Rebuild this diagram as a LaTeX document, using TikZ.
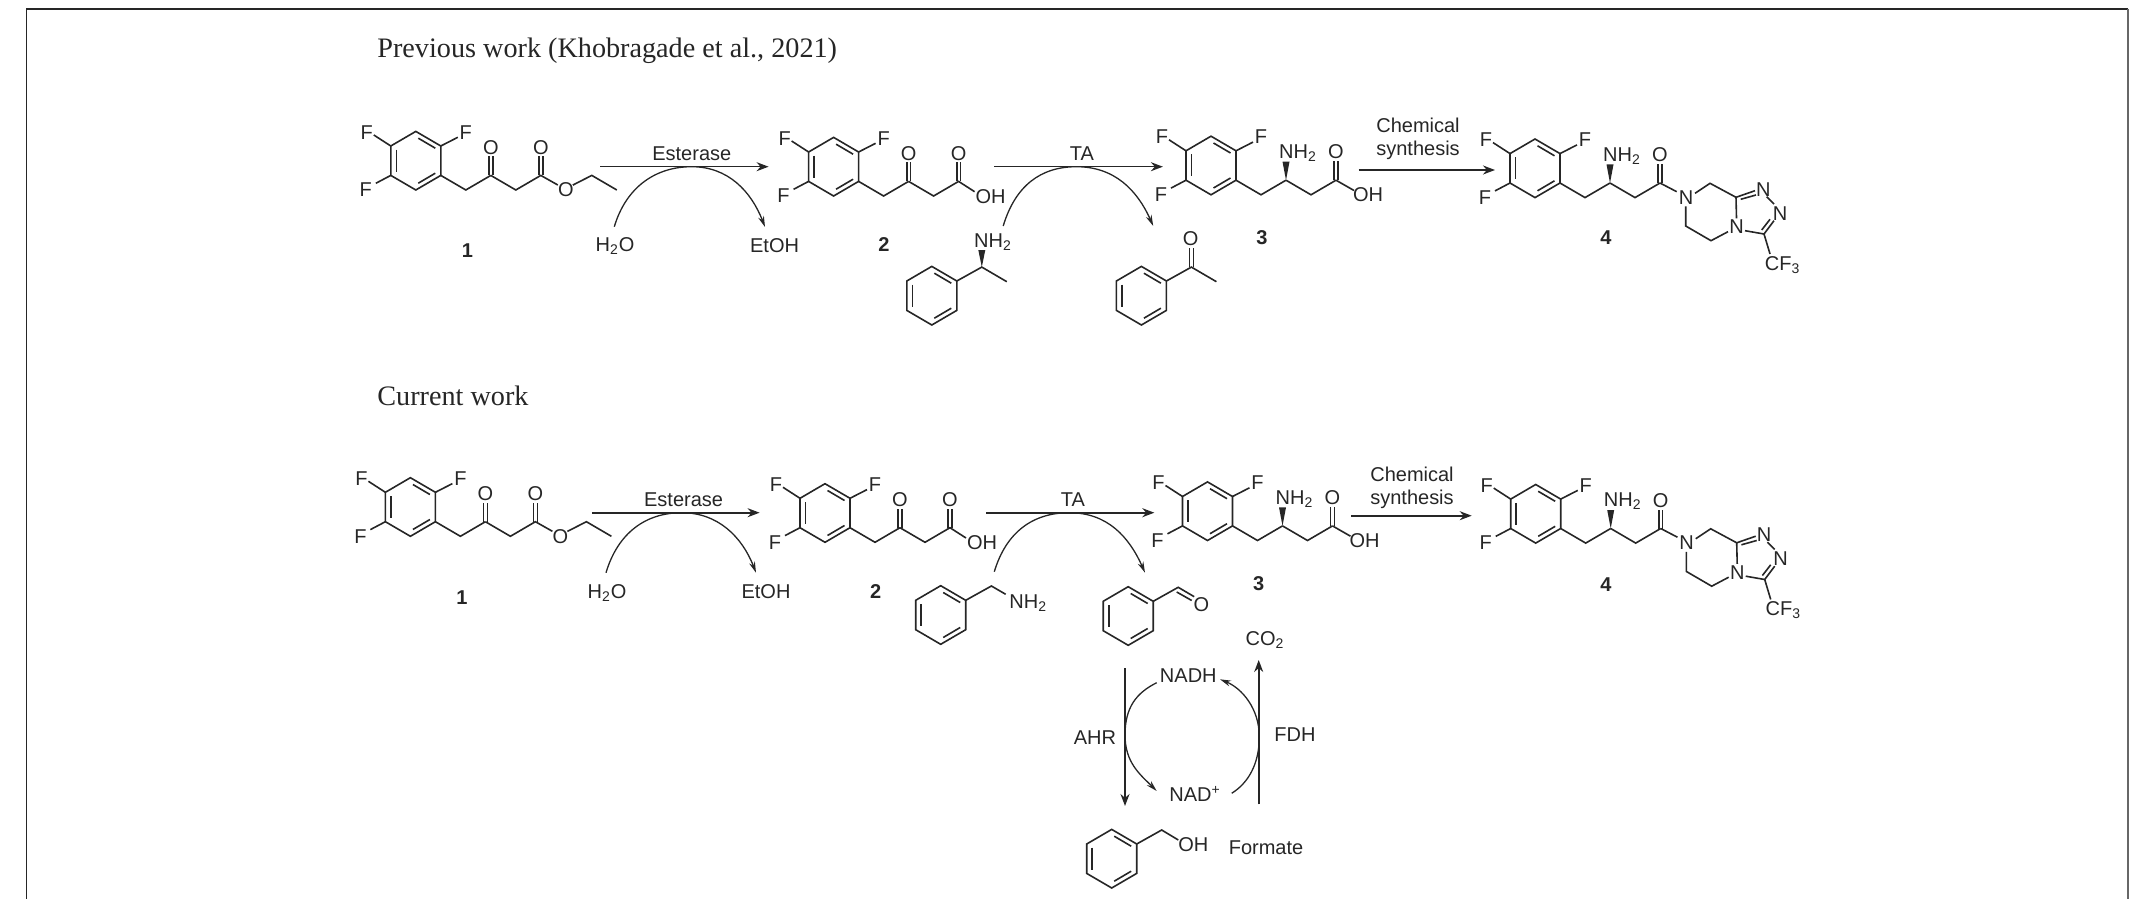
\documentclass[tikz,border=0pt]{standalone}
\usepackage{fontspec}
\setmainfont{Liberation Sans}
\newfontfamily\headfont{Liberation Serif}
\usetikzlibrary{arrows.meta}
\definecolor{inkc}{HTML}{262626}
\tikzset{
    bond/.style={draw=inkc, line width=0.8pt},
    atom/.style={font=\fontsize{10}{11.5}\selectfont, text=inkc, inner sep=0pt, align=center},
    numlab/.style={atom, font=\fontsize{10}{11.5}\selectfont\bfseries},
    headlab/.style={font=\fontsize{14.1}{16}\selectfont\headfont, text=inkc, inner sep=0pt, anchor=west},
    rxnarrow/.style={bond, -{Stealth[length=6pt,width=4.5pt]}},
    swoop/.style={draw=inkc, line width=0.65pt, -{Stealth[length=5.5pt,width=3pt]}},
    pics/benzring/.style={code={
        \draw[bond] (0,-29.3) -- (25,-14.7) -- (25,14.7) -- (0,29.3) -- (-25,14.7) -- (-25,-14.7) -- cycle;
        \draw[bond] (2.5,-22.5) -- (19.5,-12.5);
        \draw[bond] (19.5,12.5) -- (2.5,22.5);
        \draw[bond] (-19.5,-11) -- (-19.5,11);
    }},
    pics/fluoroaryl/.style={code={
        \pic {benzring};
        \draw[bond] (-25,-14.7) -- (-42,-25.7);
        \draw[bond] (25,-14.7) -- (42,-23.4);
        \draw[bond] (-25,14.7) -- (-40,22.6);
        \node[atom] (-fa) at (-49,-28.4) {F};
        \node[atom] (-fb) at (50,-28.4) {F};
        \node[atom] (-fc) at (-50,29.3) {F};
        \draw[bond] (25,14.7) -- (50,29.3) -- (75,14.7);
    }},
    pics/carbonyl/.style={code={
        \draw[bond] (-1.9,0) -- (-1.9,-19);
        \draw[bond] (1.9,0) -- (1.9,-19);
    }},
    pics/ketoester/.style={code={
        \pic {fluoroaryl};
        \pic at (75,14.7) {carbonyl};
        \pic at (125,14.7) {carbonyl};
        \node[atom] (-oa) at (75,-13.4) {O};
        \node[atom] (-ob) at (125,-13.4) {O};
        \node[atom] (-oc) at (150,29.3) {O};
        \draw[bond] (75,14.7) -- (100,29.3) -- (125,14.7) -- (142,24.3);
        \draw[bond] (157,24.4) -- (176,14.7) -- (201,29.3);
    }},
    pics/ketoacid/.style={code={
        \pic {fluoroaryl};
        \pic at (75,14.7) {carbonyl};
        \pic at (125,14.7) {carbonyl};
        \node[atom] (-oa) at (75,-13.4) {O};
        \node[atom] (-ob) at (125,-13.4) {O};
        \node[atom] (-oh) at (157,30) {OH};
        \draw[bond] (75,14.7) -- (100,29.3) -- (125,14.7) -- (141,25);
    }},
    pics/aminohead/.style={code={
        \pic {fluoroaryl};
        \pic at (125,14.7) {carbonyl};
        \fill[inkc] (75,14.7) -- (71.5,-3.8) -- (78.5,-3.8) -- cycle;
        \node[atom] (-nh) at (87,-12.2) {NH\textsubscript{2}};
        \node[atom] (-ob) at (125,-13.4) {O};
        \draw[bond] (75,14.7) -- (100,29.3) -- (125,14.7);
    }},
    pics/aminoacid/.style={code={
        \pic {aminohead};
        \node[atom] (-oh) at (157,29.5) {OH};
        \draw[bond] (125,14.7) -- (143,25);
    }},
    pics/triazolo/.style={code={
        \pic {aminohead};
        \node[atom] (-na) at (151,29) {N};
        \node[atom] (-nb) at (201.7,58.4) {N};
        \node[atom] (-nc) at (228.3,21) {N};
        \node[atom] (-nd) at (245,45) {N};
        \node[atom] (-cf) at (247.7,96.7) {CF\textsubscript{3}};
        \draw[bond] (125,14.7) -- (141.7,23.4);
        \draw[bond] (160,25) -- (175,15) -- (201,29) -- (201.5,50);
        \draw[bond] (193,63.4) -- (176,72.4) -- (150.7,57.7) -- (150.7,38);
        \draw[bond] (210,62.4) -- (229,65.7) -- (239,52.4);
        \draw[bond] (235,51) -- (226.7,61.7);
        \draw[bond] (201,29) -- (220,22.4);
        \draw[bond] (205.7,31) -- (221,26.7);
        \draw[bond] (231.7,28.4) -- (239,35.7);
        \draw[bond] (229,65.7) -- (235,85.7);
    }},
    pics/phenethyl/.style={code={
        \pic {benzring};
        \draw[bond] (25,-14.7) -- (50,-28.6) -- (75,-14);
        \fill[inkc] (50,-28.6) -- (46.5,-45.7) -- (53.5,-45.7) -- cycle;
        \node[atom] (-nh) at (61.2,-54) {NH\textsubscript{2}};
    }},
    pics/acetyl/.style={code={
        \pic {benzring};
        \draw[bond] (25,-14.7) -- (50,-28.6) -- (75,-14);
        \pic at (50,-28.6) {carbonyl};
        \node[atom] (-oa) at (49.3,-56.7) {O};
    }},
}
\begin{document}
\begin{tikzpicture}[x=0.5pt, y=-0.5pt]
    \useasboundingbox (0,0) rectangle (2148,899);
    \draw[inkc, line width=0.5pt] (26,899) -- (26,9);
    \draw[inkc, line width=1pt] (26,9) -- (2128,9);
    \draw[inkc!70, line width=0.7pt] (2128,9) -- (2128,899);
    \node[headlab] (prevhead) at (377,51) {Previous work (Khobragade et al., 2021)};
    \node[headlab] (currhead) at (377,396) {Current work};

    % upper scheme
    \pic (keta) at (415.8,160.7) {ketoester};
    \pic (acida) at (833.6,166.7) {ketoacid};
    \pic (amina) at (1211,165.5) {aminoacid};
    \pic (sitaa) at (1535,168.3) {triazolo};
    \pic (pea) at (931.8,295.7) {phenethyl};
    \pic (acpa) at (1141.4,295.7) {acetyl};
    \node[numlab] (numaa) at (467.5,251) {1};
    \node[numlab] (numab) at (884,245) {2};
    \node[numlab] (numac) at (1262,237.3) {3};
    \node[numlab] (numad) at (1606,237.3) {4};
    \node[atom] (watera) at (615,246) {H\textsubscript{2}O};
    \node[atom] (etoha) at (774.6,246) {EtOH};

    \coordinate (esta) at (600,166.7);
    \coordinate (estb) at (768.6,166.7);
    \coordinate (esttop) at (691.8,166.7);
    \coordinate (estin) at (614.3,226.7);
    \coordinate (estout) at (765,227);
    \draw[rxnarrow] (esta) -- (estb);
    \node[atom] (estlab) at (691.8,154) {Esterase};
    \draw[swoop] (estin) .. controls +(12,-40) and +(-36,0) .. (esttop) .. controls +(36,0) and +(-14,-36) .. (estout);

    \coordinate (taa) at (994.3,166.7);
    \coordinate (tab) at (1162.9,166.7);
    \coordinate (tatop) at (1076.4,166.7);
    \coordinate (tain) at (1003.2,226);
    \coordinate (taout) at (1153.2,226);
    \draw[rxnarrow] (taa) -- (tab);
    \node[atom] (talab) at (1081.8,154) {TA};
    \draw[swoop] (tain) .. controls +(12,-40) and +(-36,0) .. (tatop) .. controls +(38,0) and +(-16,-36) .. (taout);

    \coordinate (chema) at (1358.6,170);
    \coordinate (chemb) at (1495,170);
    \draw[rxnarrow] (chema) -- (chemb);
    \node[atom] (chemlab) at (1418,138.5) {Chemical\\synthesis};

    % lower scheme
    \pic (ketb) at (410.4,507) {ketoester};
    \pic (acidb) at (825,513) {ketoacid};
    \pic (aminb) at (1207.5,511.2) {aminoacid};
    \pic (sitab) at (1535.7,513.8) {triazolo};
    \node[numlab] (numba) at (462,597.3) {1};
    \node[numlab] (numbb) at (875.7,591.7) {2};
    \node[numlab] (numbc) at (1258.6,583.3) {3};
    \node[numlab] (numbd) at (1606,585) {4};
    \node[atom] (waterb) at (607,592.7) {H\textsubscript{2}O};
    \node[atom] (etohb) at (766,591.7) {EtOH};

    \coordinate (estc) at (591.8,512.7);
    \coordinate (estd) at (759.6,512.7);
    \coordinate (estbtop) at (681.8,512.7);
    \coordinate (estbin) at (606,572.7);
    \coordinate (estbout) at (756,572.7);
    \draw[rxnarrow] (estc) -- (estd);
    \node[atom] (estblab) at (683.6,500) {Esterase};
    \draw[swoop] (estbin) .. controls +(12,-40) and +(-36,0) .. (estbtop) .. controls +(36,0) and +(-14,-36) .. (estbout);

    \coordinate (tac) at (986,512.7);
    \coordinate (tad) at (1154.3,512.7);
    \coordinate (tabtop) at (1069.3,512.7);
    \coordinate (tabin) at (994.3,571.7);
    \coordinate (tabout) at (1145,572.7);
    \draw[rxnarrow] (tac) -- (tad);
    \node[atom] (tablab) at (1072.9,500) {TA};
    \draw[swoop] (tabin) .. controls +(12,-40) and +(-36,0) .. (tabtop) .. controls +(38,0) and +(-16,-36) .. (tabout);

    \coordinate (chemc) at (1351.4,515.7);
    \coordinate (chemd) at (1471.7,515.7);
    \draw[rxnarrow] (chemc) -- (chemd);
    \node[atom] (chemblab) at (1412,487.5) {Chemical\\synthesis};

    % benzylamine, benzaldehyde, benzyl alcohol
    \pic (bzn) at (940.7,615) {benzring};
    \draw[bond] (965.7,600.3) -- (991.4,586) -- (1005.7,594.3);
    \node[atom] (bznnh) at (1028.2,602.7) {NH\textsubscript{2}};
    \pic (bzo) at (1128.2,616) {benzring};
    \draw[bond] (1153.2,601.3) -- (1178.2,587.3) -- (1194.2,596.7);
    \draw[bond] (1176.7,592) -- (1191.7,600.5);
    \node[atom] (bzoo) at (1201.4,605) {O};
    \pic (bzh) at (1111.7,858.7) {benzring};
    \draw[bond] (1136.7,844) -- (1161.7,830) -- (1178.3,840);
    \node[atom] (bzhoh) at (1193.3,845) {OH};

    % cofactor cycle
    \node[atom] (co) at (1265,640) {CO\textsubscript{2}};
    \node[atom] (nadh) at (1188.3,676) {NADH};
    \node[atom] (nadp) at (1195,794) {NAD\textsuperscript{+}};
    \node[atom] (ahr) at (1095,737.3) {AHR};
    \node[atom] (fdh) at (1295,735) {FDH};
    \node[atom] (formate) at (1266,847.3) {Formate};
    \coordinate (ahra) at (1125,668.3);
    \coordinate (ahrb) at (1125,806);
    \coordinate (fdha) at (1258.7,804.3);
    \coordinate (fdhb) at (1258.7,660);
    \draw[rxnarrow] (ahra) -- (ahrb);
    \draw[rxnarrow] (fdha) -- (fdhb);
    \coordinate (cyclea) at (1156.7,682.7);
    \coordinate (cycleb) at (1125,735);
    \coordinate (cyclec) at (1156.7,791);
    \coordinate (cycled) at (1231.7,793.3);
    \coordinate (cyclee) at (1259.3,736.7);
    \coordinate (cyclef) at (1220,679.3);
    \draw[swoop] (cyclea) .. controls +(-20,10) and +(0,-28) .. (cycleb) .. controls +(0,28) and +(-16,-16) .. (cyclec);
    \draw[swoop] (cycled) .. controls +(16,-10) and +(0,28) .. (cyclee) .. controls +(0,-28) and +(22,9) .. (cyclef);
\end{tikzpicture}
\end{document}
